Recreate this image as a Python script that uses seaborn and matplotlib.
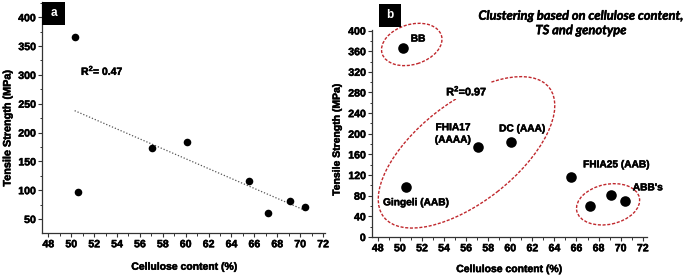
import numpy as np
import pandas as pd
import matplotlib
matplotlib.use("Agg")
import matplotlib.pyplot as plt
import matplotlib.patheffects as pe
from matplotlib.text import Text
import seaborn as sns
from matplotlib.patches import Ellipse, Rectangle
from matplotlib.transforms import ScaledTranslation
from matplotlib.ticker import MultipleLocator

# values
cellulose = [50.3, 50.6, 57.1, 60.1, 65.5, 67.2, 69.1, 70.4]
tensile = [366, 96, 174, 184, 116, 61, 81, 70]
xticks = list(range(48, 73, 2))
yticks_a = list(range(50, 401, 50))
yticks_b = list(range(0, 401, 40))

df = pd.DataFrame({"Cellulose": cellulose, "TS": tensile})

sns.set_style("ticks")
plt.rcParams["font.family"] = ["Liberation Sans", "DejaVu Sans"]
plt.rcParams["font.weight"] = "bold"
plt.rcParams["mathtext.fontset"] = "custom"
plt.rcParams["mathtext.rm"] = "Liberation Sans:bold"
plt.rcParams["mathtext.it"] = "Liberation Sans:bold"
plt.rcParams["mathtext.bf"] = "Liberation Sans:bold"
plt.rcParams["text.color"] = "black"
plt.rcParams["axes.labelcolor"] = "black"

W, H = 685, 277
fig = plt.figure(figsize=(W / 100, H / 100), dpi=100)


def px_axes(left, top, right, bottom):
    return fig.add_axes([left / W, 1 - bottom / H, (right - left) / W, (bottom - top) / H])


def style_axes(ax, ystep_minor, xt, yt):
    sns.despine(ax=ax)
    ax.set_xticks(xt, labels=[str(v) for v in xt], fontweight="bold", fontsize=7.6)
    ax.set_yticks(yt, labels=[str(v) for v in yt], fontweight="bold", fontsize=7.6)
    ax.xaxis.set_minor_locator(MultipleLocator(1))
    ax.yaxis.set_minor_locator(MultipleLocator(ystep_minor))
    ax.tick_params(which="major", length=3, width=0.8, pad=1.5, color="#333333",
                   labelcolor="black")
    ax.tick_params(which="minor", length=1.8, width=0.7, color="#333333")
    for s in ["left", "bottom"]:
        ax.spines[s].set_linewidth(0.9)
        ax.spines[s].set_color("#333333")


def panel_tag(x0, y0, w, h, letter):
    fig.patches.append(Rectangle((x0 / W, 1 - (y0 + h) / H), w / W, h / H,
                                 transform=fig.transFigure, facecolor="black",
                                 edgecolor="none", zorder=5))
    fig.text((x0 + w / 2) / W, 1 - (y0 + h / 2) / H, letter, color="white",
             fontsize=8.5, fontweight="bold", ha="center", va="center", zorder=6)


# ---- panel a ----
ax1 = px_axes(42, 2, 325, 233)
sns.regplot(data=df, x="Cellulose", y="TS", ax=ax1, scatter=False, ci=None,
            line_kws=dict(color="#555555", lw=0.9, ls=(0, (1, 1.5))))
sns.scatterplot(data=df, x="Cellulose", y="TS", ax=ax1, color="black", s=30,
                edgecolor="black", linewidth=0, zorder=3)
ax1.set_xlim(47.45, 72.17)
ax1.set_ylim(25.7, 426.5)
style_axes(ax1, 25, xticks, yticks_a)
ax1.set_xlabel("Cellulose content (%)", fontsize=7.5, fontweight="bold", color="black")
ax1.set_ylabel("Tensile Strength (MPa)", fontsize=7.8, fontweight="bold", color="black")
ax1.xaxis.label.set_va("center")
ax1.yaxis.label.set_va("center")
ax1.xaxis.set_label_coords(0.502, -0.146)
ax1.yaxis.set_label_coords(-0.122, 0.455)
ax1.text(50.86, 308.6, r"R$^{2}$= 0.47", fontsize=7.5, fontweight="bold", va="center")
panel_tag(42, 2, 23, 23, "a")

# ---- panel b ----
ax2 = px_axes(372, 29.5, 646.7, 237)
sns.scatterplot(data=df, x="Cellulose", y="TS", ax=ax2, color="black", s=58,
                edgecolor="black", linewidth=0, zorder=3)
ax2.set_xlim(47.48, 72.36)
ax2.set_ylim(0, 402)
style_axes(ax2, 20, xticks, yticks_b)
ax2.set_xlabel("Cellulose content (%)", fontsize=7.5, fontweight="bold", color="black")
ax2.set_ylabel("Tensile Strength (MPa)", fontsize=7.5, fontweight="bold", color="black")
ax2.xaxis.label.set_va("center")
ax2.yaxis.label.set_va("center")
ax2.xaxis.set_label_coords(0.4987, -0.1546)
ax2.yaxis.set_label_coords(-0.1285, 0.4686)

# cluster ellipses: centre in data units, size in pixels
clusters = [(51.08, 373, 62, 40, 17), (56.04, 164, 210, 100, 38), (68.86, 63.3, 64, 40, 12)]
for cx, cy, w, h, ang in clusters:
    tr = fig.dpi_scale_trans + ScaledTranslation(cx, cy, ax2.transData)
    ax2.add_patch(Ellipse((0, 0), w / 100, h / 100, angle=ang, transform=tr, fill=False,
                          edgecolor="#c0282d", lw=1.0, ls=(0, (2.2, 1.2)), zorder=2,
                          clip_on=False))

lab_kw = dict(fontsize=7.3, fontweight="bold", va="center")
ax2.text(50.99, 384.5, "BB", **lab_kw)
ax2.text(54.2, 283.9, r"R$^{2}$=0.97", fontsize=7.8, fontweight="bold", va="center",
         bbox=dict(facecolor="white", edgecolor="none", pad=1.5), zorder=4)
ax2.text(54.81, 200.7, "FHIA17\n(AAAA)", ha="center", linespacing=1.3, **lab_kw)
ax2.text(58.99, 210.3, "DC (AAA)", **lab_kw)
ax2.text(66.6, 140.7, "FHIA25 (AAB)", **lab_kw)
ax2.text(71.1, 96.2, "ABB's", clip_on=False, **lab_kw)
ax2.text(48.48, 67.2, "Gingeli (AAB)", **lab_kw)
panel_tag(379, 4, 22, 23, "b")

fig.text(581 / W, 1 - 23 / H, "Clustering based on cellulose content,\nTS and genotype",
         family=["Lato", "DejaVu Sans"], style="italic", fontweight="bold", fontsize=9.3,
         ha="center", va="center", linespacing=1.25)

# the scanned reference text is a little heavier; thicken black text slightly
for t in fig.findobj(Text):
    if t.get_color() in ("black", "#000000", "k"):
        t.set_path_effects([pe.withStroke(linewidth=0.35, foreground="black")])

fig.savefig("out.png", dpi=100)
